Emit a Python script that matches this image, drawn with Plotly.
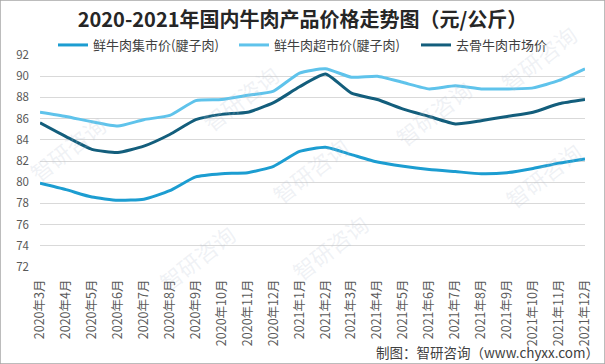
import plotly.graph_objects as go

months = ["2020年3月", "2020年4月", "2020年5月", "2020年6月", "2020年7月", "2020年8月",
          "2020年9月", "2020年10月", "2020年11月", "2020年12月", "2021年1月", "2021年2月",
          "2021年3月", "2021年4月", "2021年5月", "2021年6月", "2021年7月", "2021年8月",
          "2021年9月", "2021年10月", "2021年11月", "2021年12月"]

market_shank = [79.9, 79.3, 78.6, 78.3, 78.4, 79.2, 80.5, 80.8, 80.9, 81.5, 82.9, 83.3,
                82.6, 81.9, 81.5, 81.2, 81.0, 80.8, 80.9, 81.3, 81.8, 82.2]
super_shank = [86.6, 86.2, 85.7, 85.3, 85.9, 86.3, 87.7, 87.8, 88.2, 88.6, 90.3, 90.7,
               89.9, 90.0, 89.4, 88.8, 89.1, 88.8, 88.8, 88.9, 89.6, 90.7]
boneless = [85.6, 84.3, 83.1, 82.8, 83.4, 84.5, 85.9, 86.4, 86.6, 87.5, 89.0, 90.2,
            88.4, 87.8, 86.9, 86.2, 85.5, 85.8, 86.2, 86.6, 87.4, 87.8]

series_names = ["鲜牛肉集市价(腱子肉)", "鲜牛肉超市价(腱子肉)", "去骨牛肉市场价"]
series_colors = ["#1c9dd1", "#5fc3eb", "#135e7c"]
y_ticks = [72, 74, 76, 78, 80, 82, 84, 86, 88, 90, 92]

FONT = "Noto Sans CJK SC"
idx = list(range(len(months)))

L, R, T, B = 40, 20, 55, 97
PW, PH = 605 - L - R, 364 - T - B


def px2paper(px, py):
    return (px - L) / PW, (364 - B - py) / PH


fig = go.Figure()
legend_ids = ["legend", "legend2", "legend3"]
for name, vals, col, lg in zip(series_names, [market_shank, super_shank, boneless],
                               series_colors, legend_ids):
    fig.add_trace(go.Scatter(x=idx, y=vals, name=name, mode="lines", legend=lg,
                             line=dict(color=col, width=3, shape="spline", smoothing=0.5)))

# faint watermarks
for (wx, wy) in [(20, 105), (150, 300), (330, 290), (310, 170), (240, 55),
                 (480, 70), (585, 15), (590, 175)]:
    ax, ay = px2paper(wx, wy)
    fig.add_annotation(x=ax, y=ay, xref="paper", yref="paper", text="智研咨询",
                       showarrow=False, textangle=-38,
                       font=dict(family=FONT, size=22, color="rgba(185,195,210,0.22)"))

sx, sy = px2paper(601, 352)
fig.add_annotation(x=sx, y=sy, xref="paper", yref="paper",
                   xanchor="right", yanchor="middle", showarrow=False,
                   text="制图：智研咨询（www.chyxx.com）",
                   font=dict(family=FONT, size=13.5, color="#404040"))

legend_common = dict(orientation="h", yanchor="middle", xanchor="left",
                     xref="paper", yref="paper",
                     font=dict(family=FONT, size=13, color="#404040"),
                     bgcolor="rgba(0,0,0,0)", itemwidth=30)
legend_px = [53, 234, 416]
legends = {}
for lg, lpx in zip(legend_ids, legend_px):
    ax, ay = px2paper(lpx, 45)
    legends[lg] = dict(x=ax, y=ay, **legend_common)

fig.update_layout(
    width=605, height=364,
    margin=dict(l=L, r=R, t=T, b=B),
    paper_bgcolor="white", plot_bgcolor="white",
    title=dict(text="<b>2020-2021年国内牛肉产品价格走势图（元/公斤）</b>",
               x=0.5, xanchor="center", y=1 - 20 / 364, yanchor="middle",
               font=dict(family=FONT, size=20, color="#262626")),
    showlegend=True,
    **legends,
)

fig.update_xaxes(range=[0, 21], tickmode="array", tickvals=idx, ticktext=months,
                 tickangle=-90, showgrid=False, zeroline=False, showline=False,
                 ticks="", ticklabelstandoff=9, automargin=False,
                 tickfont=dict(family=FONT, size=12.5, color="#595959"))
fig.update_yaxes(range=[72, 92], tickmode="array", tickvals=y_ticks,
                 showgrid=True, gridcolor="#d9d9d9", gridwidth=1, zeroline=False,
                 showline=False, ticks="", ticklabelstandoff=10, automargin=False,
                 tickfont=dict(family=FONT, size=11.5, color="#595959"))

fig.add_shape(type="rect", xref="paper", yref="paper", x0=-L / PW, x1=1 + R / PW,
              y0=-B / PH, y1=1 + T / PH, line=dict(color="#a6a6a6", width=1.5),
              fillcolor="rgba(0,0,0,0)", layer="above")

fig.write_html("out.html", config={"displayModeBar": False},
               post_script="document.body.style.margin='0';document.body.style.overflow='hidden';")
